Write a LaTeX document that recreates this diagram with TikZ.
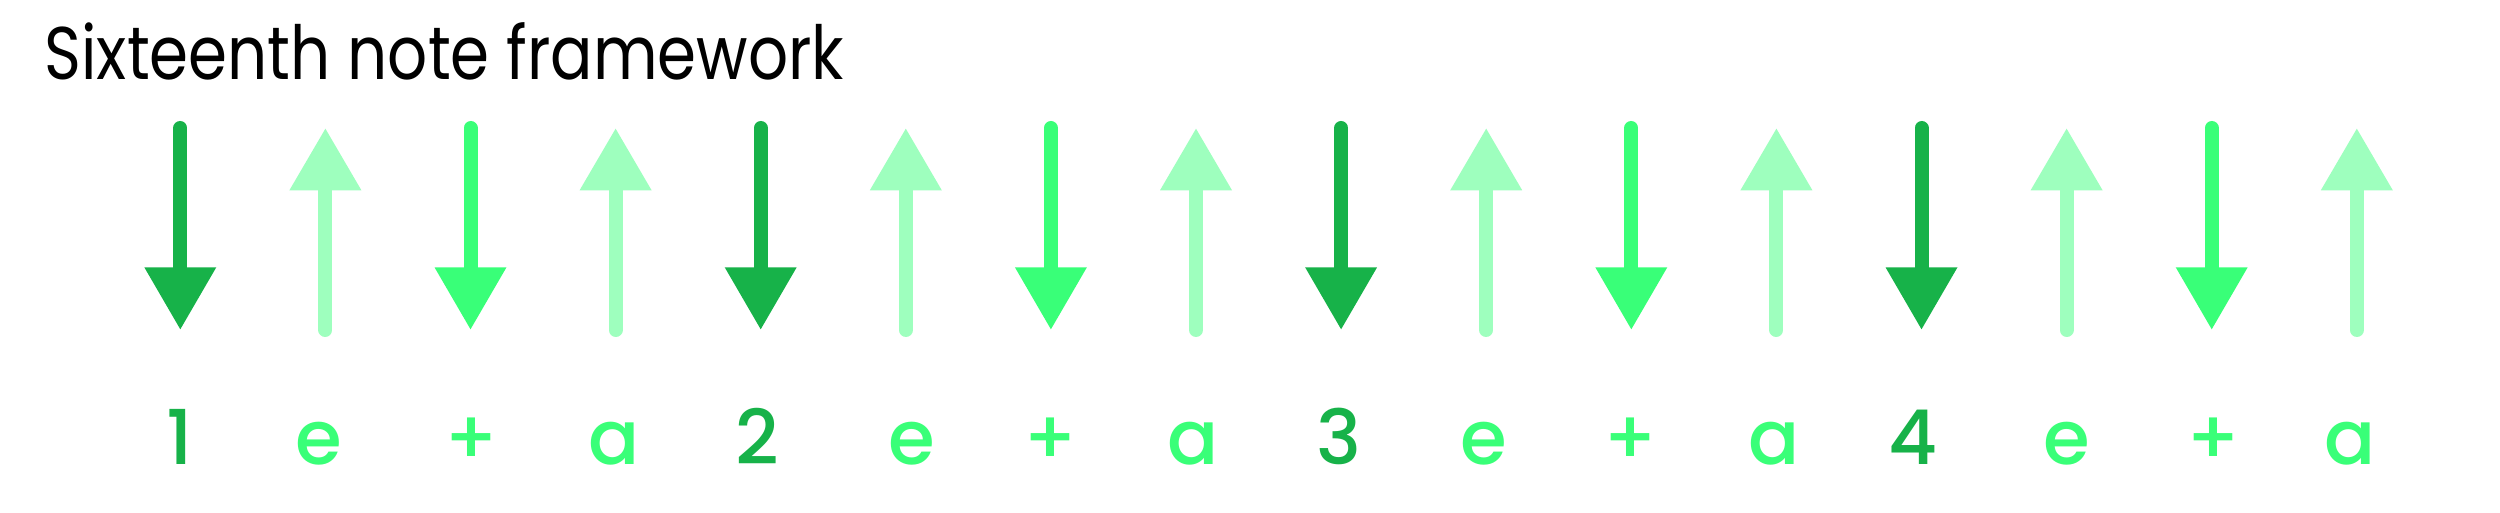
\documentclass[tikz,border=0pt]{standalone}
\usepackage{fontspec}
\newfontfamily\titlefont[FakeStretch=0.842]{Poppins}
\newfontfamily\labfont{Poppins Medium}
\definecolor{beatgreen}{HTML}{17B249}
\definecolor{andgreen}{HTML}{39FF78}
\definecolor{upgreen}{HTML}{9EFFBE}
\tikzset{
  shaft/.style={line width=3.98pt, line cap=round},
  lab/.style={anchor=base, inner sep=0pt, font=\labfont\fontsize{21.5pt}{21.5pt}\selectfont},
  ttl/.style={anchor=base west, inner sep=0pt, font=\titlefont\fontsize{21.2pt}{21.2pt}\selectfont}
}
\begin{document}
\begin{tikzpicture}[x=0.01cm, y=-0.01cm]
\useasboundingbox[fill=white] (0,0) rectangle (2500,513);
\node[ttl] (title) at (44,80) {Sixteenth note framework};
% down arrows
\foreach \i/\c in {0/beatgreen,2/andgreen,4/beatgreen,6/andgreen,8/beatgreen,10/andgreen,12/beatgreen,14/andgreen}{
  \pgfmathsetmacro\xx{180.3+145.1*\i}
  \coordinate (s\i) at (\xx,128);
  \coordinate (b\i) at (\xx,268);
  \draw[shaft, \c] (s\i) -- (b\i);
  \fill[\c] (\xx-36,267.3) -- (\xx+36,267.3) -- (\xx,329.3) -- cycle;
}
% up arrows
\foreach \i in {1,3,5,7,9,11,13,15}{
  \pgfmathsetmacro\xx{180.3+145.1*\i}
  \coordinate (s\i) at (\xx,330);
  \coordinate (b\i) at (\xx,190);
  \draw[shaft, upgreen] (s\i) -- (b\i);
  \fill[upgreen] (\xx-36,190.3) -- (\xx+36,190.3) -- (\xx,128.7) -- cycle;
}
% labels
\node[lab, beatgreen] (l1) at (180,464.7) {1};
\node[lab, andgreen] (l2) at (319,464.7) {e};
\node[lab, andgreen] (l3) at (471,464.7) {+};
\node[lab, andgreen] (l4) at (614,464.7) {a};
\node[lab, beatgreen] (l5) at (757.5,464.7) {2};
\node[lab, andgreen] (l6) at (912,464.7) {e};
\node[lab, andgreen] (l7) at (1050,464.7) {+};
\node[lab, andgreen] (l8) at (1193,464.7) {a};
\node[lab, beatgreen] (l9) at (1339,464.7) {3};
\node[lab, andgreen] (l10) at (1484,464.7) {e};
\node[lab, andgreen] (l11) at (1630,464.7) {+};
\node[lab, andgreen] (l12) at (1774,464.7) {a};
\node[lab, beatgreen] (l13) at (1912.5,464.7) {4};
\node[lab, andgreen] (l14) at (2066.5,464.7) {e};
\node[lab, andgreen] (l15) at (2213,464.7) {+};
\node[lab, andgreen] (l16) at (2350,464.7) {a};
\end{tikzpicture}
\end{document}
